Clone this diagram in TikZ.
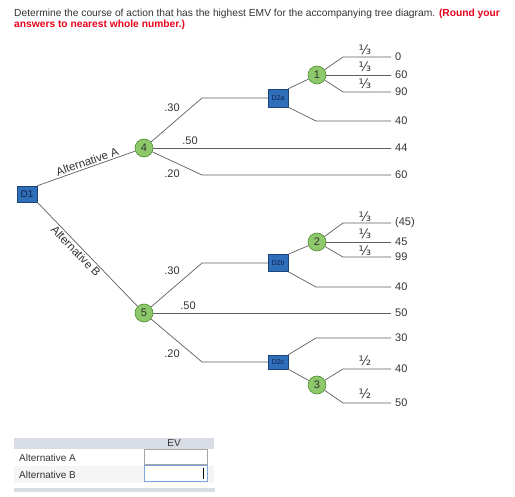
\documentclass[tikz,border=0pt]{standalone}
\usepackage{fontspec}
\setmainfont{Liberation Sans}
\newfontfamily\djv{DejaVu Sans}
\definecolor{linegray}{HTML}{5E5E5E}
\definecolor{txtgray}{HTML}{333333}
\definecolor{boxblue}{HTML}{2F6EB8}
\definecolor{boxedge}{HTML}{1D4478}
\definecolor{boxtext}{HTML}{0E2552}
\definecolor{circfill}{HTML}{8DC96A}
\definecolor{circedge}{HTML}{4F8C32}
\definecolor{hintred}{HTML}{E8001C}
\definecolor{barbg}{HTML}{D8DCE5}
\definecolor{rowbg}{HTML}{F5F5F5}
\definecolor{inpgray}{HTML}{A5A5A5}
\definecolor{inpblue}{HTML}{7FA3DC}
\begin{document}
\begin{tikzpicture}[x=1pt,y=-1pt,
  ln/.style={draw=linegray, line width=0.7pt},
  dbox/.style={draw=boxedge, line width=0.5pt, fill=boxblue, minimum width=20pt, minimum height=17pt, inner sep=0pt, text=boxtext, font=\fontsize{7}{7}\selectfont},
  chance/.style={circle, draw=circedge, line width=0.6pt, fill=circfill, minimum size=18pt, inner sep=0pt, text=txtgray, font=\fontsize{11}{11}\selectfont},
  prob/.style={inner sep=0pt, text=txtgray, font=\fontsize{11}{12}\selectfont},
  val/.style={anchor=west, inner xsep=4pt, inner ysep=0pt, text=txtgray, font=\fontsize{11}{12}\selectfont},
  frc/.style={inner sep=0pt, text=txtgray, font=\djv\fontsize{13}{14}\selectfont},
  alt/.style={inner sep=1.5pt, text=txtgray, font=\fontsize{11.5}{12}\selectfont},
  title/.style={anchor=base west, inner sep=0pt, text=txtgray, font=\fontsize{10.25}{11}\selectfont},
  tab/.style={inner sep=0pt, text=txtgray, font=\fontsize{10}{11}\selectfont}
]
\useasboundingbox (0,0) rectangle (515,497);

% title
\node[title] (t1) at (14,17) {Determine the course of action that has the highest EMV for the accompanying tree diagram. \textcolor{hintred}{\bfseries(Round your}};
\node[title, text=hintred, font=\fontsize{10.25}{11}\selectfont\bfseries] (t2) at (14,28) {answers to nearest whole number.)};

% decision and chance nodes
\node[dbox, minimum height=16pt, font=\fontsize{10}{10}\selectfont] (d1) at (27,194) {D1};
\node[chance] (n4) at (144,148) {4};
\node[chance] (n5) at (144,313) {5};
\node[dbox, minimum height=18pt] (d2a) at (278,98) {D2a};
\node[dbox] (d2b) at (278,263) {D2b};
\node[dbox, minimum height=14pt] (d2c) at (278,362) {D2c};
\node[chance] (n1) at (317,75) {1};
\node[chance] (n2) at (317,242) {2};
\node[chance] (n3) at (317,385) {3};

% bend coordinates
\coordinate (b4a) at (202,98);
\coordinate (b4c) at (202,175);
\coordinate (b5a) at (202,263);
\coordinate (b5c) at (202,362);
\coordinate (b1a) at (343,57);
\coordinate (b1c) at (343,92);
\coordinate (bda) at (316,121);
\coordinate (b2a) at (343,223);
\coordinate (b2c) at (343,257);
\coordinate (bdb) at (316,287);
\coordinate (bdc) at (316,338);
\coordinate (b3a) at (343,369);
\coordinate (b3c) at (343,403);

% end values
\node[val] (v1) at (391,57) {0};
\node[val] (v2) at (391,75) {60};
\node[val] (v3) at (391,92) {90};
\node[val] (v4) at (391,121) {40};
\node[val] (v5) at (391,148) {44};
\node[val] (v6) at (391,175) {60};
\node[val] (v7) at (391,223) {(45)};
\node[val] (v8) at (391,242) {45};
\node[val] (v9) at (391,257) {99};
\node[val] (v10) at (391,287) {40};
\node[val] (v11) at (391,313) {50};
\node[val] (v12) at (391,338) {30};
\node[val] (v13) at (391,369) {40};
\node[val] (v14) at (391,403) {50};

% connectors
\draw[ln] (d1.north east) -- (n4) node[alt, pos=0.53, sloped, above] {Alternative A};
\draw[ln] (d1.south east) -- (n5) node[alt, pos=0.43, sloped, below] {Alternative B};
\draw[ln] (n4) -- (b4a) -- (d2a);
\draw[ln] (n4) -- (v5.west);
\draw[ln] (n4) -- (b4c) -- (v6.west);
\draw[ln] (n5) -- (b5a) -- (d2b);
\draw[ln] (n5) -- (v11.west);
\draw[ln] (n5) -- (b5c) -- (d2c);
\draw[ln] (d2a.north east) -- (n1);
\draw[ln] (d2a.south east) -- (bda) -- (v4.west);
\draw[ln] (n1) -- (b1a) -- (v1.west);
\draw[ln] (n1) -- (v2.west);
\draw[ln] (n1) -- (b1c) -- (v3.west);
\draw[ln] (d2b.north east) -- (n2);
\draw[ln] (d2b.south east) -- (bdb) -- (v10.west);
\draw[ln] (n2) -- (b2a) -- (v7.west);
\draw[ln] (n2) -- (v8.west);
\draw[ln] (n2) -- (b2c) -- (v9.west);
\draw[ln] (d2c.north east) -- (bdc) -- (v12.west);
\draw[ln] (d2c.south east) -- (n3);
\draw[ln] (n3) -- (b3a) -- (v13.west);
\draw[ln] (n3) -- (b3c) -- (v14.west);

% probability labels
\node[prob] (p4a) at (172,108) {.30};
\node[prob] (p4b) at (190,141) {.50};
\node[prob] (p4c) at (172,174) {.20};
\node[prob] (p5a) at (172,271) {.30};
\node[prob] (p5b) at (188,306) {.50};
\node[prob] (p5c) at (172,354) {.20};
\node[frc] (f1) at (365,50) {⅓};
\node[frc] (f2) at (365,67) {⅓};
\node[frc] (f3) at (365,84) {⅓};
\node[frc] (f4) at (365,217) {⅓};
\node[frc] (f5) at (365,234) {⅓};
\node[frc] (f6) at (365,251) {⅓};
\node[frc] (f7) at (365,361) {½};
\node[frc] (f8) at (365,394) {½};

% answer table
\fill[barbg] (14,438) rectangle (214,449);
\fill[rowbg] (14,466) rectangle (214,483);
\fill[barbg] (14,488) rectangle (215,492);
\node[tab] (ev) at (174,443.5) {EV};
\node[tab, anchor=west] (ra) at (19,458) {Alternative A};
\node[tab, anchor=west] (rb) at (19,475) {Alternative B};
\node[draw=inpgray, line width=0.7pt, fill=white, minimum width=63pt, minimum height=15pt, inner sep=0pt] (ia) at (175.5,456.5) {};
\node[draw=inpblue, line width=1pt, fill=white, minimum width=63pt, minimum height=16pt, inner sep=0pt] (ib) at (175.5,474) {};
\draw[black, line width=0.8pt] ([xshift=-4pt,yshift=-3pt]ib.north east) -- ([xshift=-4pt,yshift=3pt]ib.south east);
\end{tikzpicture}
\end{document}
